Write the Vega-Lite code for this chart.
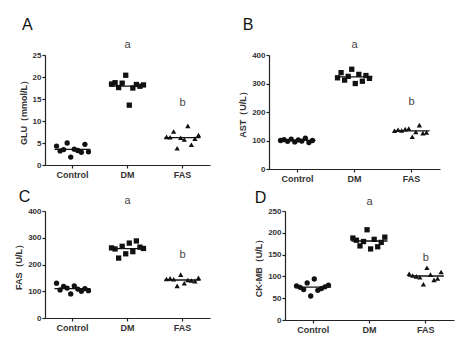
{
  "$schema": "https://vega.github.io/schema/vega-lite/v6.json",
  "background": "white",
  "padding": {"left": 14, "top": 16, "right": 5, "bottom": 5},
  "config": {
    "font": "Liberation Sans",
    "view": {"stroke": null},
    "axis": {"domainColor": "#222", "tickColor": "#222", "labelColor": "#333", "titleColor": "#333", "grid": false, "tickSize": 3, "domainWidth": 1.2, "tickWidth": 1.2, "labelOverlap": false},
    "axisX": {"labelFontSize": 9, "labelFontWeight": "bold", "labelAngle": 0, "title": null, "labelPadding": 2},
    "axisY": {"labelFontSize": 8, "labelFontWeight": "bold", "titleFontSize": 9, "titleFontWeight": "bold", "titlePadding": 4, "labelPadding": 1, "labelOverlap": false},
    "title": {"anchor": "start", "frame": "bounds", "fontSize": 16, "fontWeight": "normal", "color": "#111", "offset": 6}
  },
  "datasets": {
    "pts": [
      {"panel": "A", "group": "Control", "id": 1, "value": 4.3},
      {"panel": "A", "group": "Control", "id": 2, "value": 3.2},
      {"panel": "A", "group": "Control", "id": 3, "value": 3.5},
      {"panel": "A", "group": "Control", "id": 4, "value": 5.0},
      {"panel": "A", "group": "Control", "id": 5, "value": 1.8},
      {"panel": "A", "group": "Control", "id": 6, "value": 3.6},
      {"panel": "A", "group": "Control", "id": 7, "value": 3.3},
      {"panel": "A", "group": "Control", "id": 8, "value": 2.9},
      {"panel": "A", "group": "Control", "id": 9, "value": 4.7},
      {"panel": "A", "group": "Control", "id": 10, "value": 3.0},
      {"panel": "A", "group": "DM", "id": 1, "value": 18.4},
      {"panel": "A", "group": "DM", "id": 2, "value": 18.7},
      {"panel": "A", "group": "DM", "id": 3, "value": 17.6},
      {"panel": "A", "group": "DM", "id": 4, "value": 18.6},
      {"panel": "A", "group": "DM", "id": 5, "value": 20.4},
      {"panel": "A", "group": "DM", "id": 6, "value": 13.6},
      {"panel": "A", "group": "DM", "id": 7, "value": 17.5},
      {"panel": "A", "group": "DM", "id": 8, "value": 18.3},
      {"panel": "A", "group": "DM", "id": 9, "value": 17.9},
      {"panel": "A", "group": "DM", "id": 10, "value": 18.2},
      {"panel": "A", "group": "FAS", "id": 1, "value": 6.4},
      {"panel": "A", "group": "FAS", "id": 2, "value": 6.3},
      {"panel": "A", "group": "FAS", "id": 3, "value": 7.6},
      {"panel": "A", "group": "FAS", "id": 4, "value": 3.8},
      {"panel": "A", "group": "FAS", "id": 5, "value": 6.2},
      {"panel": "A", "group": "FAS", "id": 6, "value": 5.8},
      {"panel": "A", "group": "FAS", "id": 7, "value": 8.9},
      {"panel": "A", "group": "FAS", "id": 8, "value": 4.6},
      {"panel": "A", "group": "FAS", "id": 9, "value": 6.0},
      {"panel": "A", "group": "FAS", "id": 10, "value": 6.8},
      {"panel": "B", "group": "Control", "id": 1, "value": 100},
      {"panel": "B", "group": "Control", "id": 2, "value": 103},
      {"panel": "B", "group": "Control", "id": 3, "value": 97},
      {"panel": "B", "group": "Control", "id": 4, "value": 105},
      {"panel": "B", "group": "Control", "id": 5, "value": 95},
      {"panel": "B", "group": "Control", "id": 6, "value": 102},
      {"panel": "B", "group": "Control", "id": 7, "value": 98},
      {"panel": "B", "group": "Control", "id": 8, "value": 108},
      {"panel": "B", "group": "Control", "id": 9, "value": 93},
      {"panel": "B", "group": "Control", "id": 10, "value": 100},
      {"panel": "B", "group": "DM", "id": 1, "value": 320},
      {"panel": "B", "group": "DM", "id": 2, "value": 338},
      {"panel": "B", "group": "DM", "id": 3, "value": 312},
      {"panel": "B", "group": "DM", "id": 4, "value": 325},
      {"panel": "B", "group": "DM", "id": 5, "value": 350},
      {"panel": "B", "group": "DM", "id": 6, "value": 300},
      {"panel": "B", "group": "DM", "id": 7, "value": 332},
      {"panel": "B", "group": "DM", "id": 8, "value": 308},
      {"panel": "B", "group": "DM", "id": 9, "value": 328},
      {"panel": "B", "group": "DM", "id": 10, "value": 318},
      {"panel": "B", "group": "FAS", "id": 1, "value": 134},
      {"panel": "B", "group": "FAS", "id": 2, "value": 138},
      {"panel": "B", "group": "FAS", "id": 3, "value": 135},
      {"panel": "B", "group": "FAS", "id": 4, "value": 140},
      {"panel": "B", "group": "FAS", "id": 5, "value": 142},
      {"panel": "B", "group": "FAS", "id": 6, "value": 113},
      {"panel": "B", "group": "FAS", "id": 7, "value": 130},
      {"panel": "B", "group": "FAS", "id": 8, "value": 154},
      {"panel": "B", "group": "FAS", "id": 9, "value": 126},
      {"panel": "B", "group": "FAS", "id": 10, "value": 128},
      {"panel": "C", "group": "Control", "id": 1, "value": 130},
      {"panel": "C", "group": "Control", "id": 2, "value": 105},
      {"panel": "C", "group": "Control", "id": 3, "value": 118},
      {"panel": "C", "group": "Control", "id": 4, "value": 112},
      {"panel": "C", "group": "Control", "id": 5, "value": 90},
      {"panel": "C", "group": "Control", "id": 6, "value": 120},
      {"panel": "C", "group": "Control", "id": 7, "value": 108},
      {"panel": "C", "group": "Control", "id": 8, "value": 100},
      {"panel": "C", "group": "Control", "id": 9, "value": 110},
      {"panel": "C", "group": "Control", "id": 10, "value": 102},
      {"panel": "C", "group": "DM", "id": 1, "value": 262},
      {"panel": "C", "group": "DM", "id": 2, "value": 258},
      {"panel": "C", "group": "DM", "id": 3, "value": 224},
      {"panel": "C", "group": "DM", "id": 4, "value": 268},
      {"panel": "C", "group": "DM", "id": 5, "value": 240},
      {"panel": "C", "group": "DM", "id": 6, "value": 280},
      {"panel": "C", "group": "DM", "id": 7, "value": 248},
      {"panel": "C", "group": "DM", "id": 8, "value": 288},
      {"panel": "C", "group": "DM", "id": 9, "value": 265},
      {"panel": "C", "group": "DM", "id": 10, "value": 260},
      {"panel": "C", "group": "FAS", "id": 1, "value": 146},
      {"panel": "C", "group": "FAS", "id": 2, "value": 148},
      {"panel": "C", "group": "FAS", "id": 3, "value": 145},
      {"panel": "C", "group": "FAS", "id": 4, "value": 120},
      {"panel": "C", "group": "FAS", "id": 5, "value": 162},
      {"panel": "C", "group": "FAS", "id": 6, "value": 130},
      {"panel": "C", "group": "FAS", "id": 7, "value": 142},
      {"panel": "C", "group": "FAS", "id": 8, "value": 140},
      {"panel": "C", "group": "FAS", "id": 9, "value": 138},
      {"panel": "C", "group": "FAS", "id": 10, "value": 150},
      {"panel": "D", "group": "Control", "id": 1, "value": 78},
      {"panel": "D", "group": "Control", "id": 2, "value": 75},
      {"panel": "D", "group": "Control", "id": 3, "value": 70},
      {"panel": "D", "group": "Control", "id": 4, "value": 85},
      {"panel": "D", "group": "Control", "id": 5, "value": 55},
      {"panel": "D", "group": "Control", "id": 6, "value": 94},
      {"panel": "D", "group": "Control", "id": 7, "value": 68},
      {"panel": "D", "group": "Control", "id": 8, "value": 72},
      {"panel": "D", "group": "Control", "id": 9, "value": 76},
      {"panel": "D", "group": "Control", "id": 10, "value": 80},
      {"panel": "D", "group": "DM", "id": 1, "value": 188},
      {"panel": "D", "group": "DM", "id": 2, "value": 183},
      {"panel": "D", "group": "DM", "id": 3, "value": 170},
      {"panel": "D", "group": "DM", "id": 4, "value": 180},
      {"panel": "D", "group": "DM", "id": 5, "value": 207},
      {"panel": "D", "group": "DM", "id": 6, "value": 163},
      {"panel": "D", "group": "DM", "id": 7, "value": 185},
      {"panel": "D", "group": "DM", "id": 8, "value": 168},
      {"panel": "D", "group": "DM", "id": 9, "value": 178},
      {"panel": "D", "group": "DM", "id": 10, "value": 190},
      {"panel": "D", "group": "FAS", "id": 1, "value": 106},
      {"panel": "D", "group": "FAS", "id": 2, "value": 102},
      {"panel": "D", "group": "FAS", "id": 3, "value": 100},
      {"panel": "D", "group": "FAS", "id": 4, "value": 98},
      {"panel": "D", "group": "FAS", "id": 5, "value": 82},
      {"panel": "D", "group": "FAS", "id": 6, "value": 120},
      {"panel": "D", "group": "FAS", "id": 7, "value": 104},
      {"panel": "D", "group": "FAS", "id": 8, "value": 92},
      {"panel": "D", "group": "FAS", "id": 9, "value": 95},
      {"panel": "D", "group": "FAS", "id": 10, "value": 110}
    ],
    "ann": [
      {"panel": "A", "group": "DM", "label": "a", "value": 27.3},
      {"panel": "A", "group": "FAS", "label": "b", "value": 14.2},
      {"panel": "B", "group": "DM", "label": "a", "value": 435},
      {"panel": "B", "group": "FAS", "label": "b", "value": 235},
      {"panel": "C", "group": "DM", "label": "a", "value": 436},
      {"panel": "C", "group": "FAS", "label": "b", "value": 234},
      {"panel": "D", "group": "DM", "label": "a", "value": 270},
      {"panel": "D", "group": "FAS", "label": "b", "value": 142}
    ]
  },
  "vconcat": [
    {
      "hconcat": [
        {
          "width": 165, "height": 110,
          "title": {"text": "A", "dx": 3},
          "encoding": {
            "x": {"field": "group", "type": "nominal", "sort": ["Control", "DM", "FAS"], "scale": {"paddingInner": 0, "paddingOuter": 0}},
            "y": {"field": "value", "type": "quantitative", "scale": {"domain": [0, 25]}, "axis": {"values": [0, 5, 10, 15, 20, 25], "labelOverlap": false, "title": "GLU（mmol/L）"}}
          },
          "layer": [
            {"data": {"name": "pts"}, "transform": [{"filter": "datum.panel === 'A'"}],
             "mark": {"type": "point", "filled": true, "opacity": 1, "color": "#111", "size": 28},
             "encoding": {
               "xOffset": {"field": "id", "type": "quantitative", "scale": {"domain": [-2.25, 13.25]}},
               "shape": {"field": "group", "type": "nominal", "scale": {"domain": ["Control", "DM", "FAS"], "range": ["circle", "square", "triangle-up"]}, "legend": null}
             }},
            {"data": {"name": "pts"}, "transform": [{"filter": "datum.panel === 'A'"}],
             "mark": {"type": "tick", "color": "#111", "size": 36, "thickness": 1.3},
             "encoding": {
               "y": {"aggregate": "mean", "field": "value", "type": "quantitative"}
             }},
            {"data": {"name": "ann"}, "transform": [{"filter": "datum.panel === 'A'"}],
             "mark": {"type": "text", "fontSize": 11, "color": "#444"},
             "encoding": {"text": {"field": "label"}}}
          ]
        },
        {
          "width": 171, "height": 114,
          "title": {"text": "B", "dx": 4},
          "encoding": {
            "x": {"field": "group", "type": "nominal", "sort": ["Control", "DM", "FAS"], "scale": {"paddingInner": 0, "paddingOuter": 0}},
            "y": {"field": "value", "type": "quantitative", "scale": {"domain": [0, 400]}, "axis": {"values": [0, 100, 200, 300, 400], "labelOverlap": false, "title": "AST（U/L）"}}
          },
          "layer": [
            {"data": {"name": "pts"}, "transform": [{"filter": "datum.panel === 'B'"}],
             "mark": {"type": "point", "filled": true, "opacity": 1, "color": "#111", "size": 28},
             "encoding": {
               "xOffset": {"field": "id", "type": "quantitative", "scale": {"domain": [-2.25, 13.25]}},
               "shape": {"field": "group", "type": "nominal", "scale": {"domain": ["Control", "DM", "FAS"], "range": ["circle", "square", "triangle-up"]}, "legend": null}
             }},
            {"data": {"name": "pts"}, "transform": [{"filter": "datum.panel === 'B'"}],
             "mark": {"type": "tick", "color": "#111", "size": 36, "thickness": 1.3},
             "encoding": {
               "y": {"aggregate": "mean", "field": "value", "type": "quantitative"}
             }},
            {"data": {"name": "ann"}, "transform": [{"filter": "datum.panel === 'B'"}],
             "mark": {"type": "text", "fontSize": 11, "color": "#444"},
             "encoding": {"text": {"field": "label"}}}
          ]
        }
      ],
      "spacing": 28
    },
    {
      "hconcat": [
        {
          "width": 165, "height": 107,
          "title": {"text": "C", "offset": -10, "dx": 4},
          "encoding": {
            "x": {"field": "group", "type": "nominal", "sort": ["Control", "DM", "FAS"], "scale": {"paddingInner": 0, "paddingOuter": 0}},
            "y": {"field": "value", "type": "quantitative", "scale": {"domain": [0, 400]}, "axis": {"values": [0, 100, 200, 300, 400], "labelOverlap": false, "title": "FAS（U/L）"}}
          },
          "layer": [
            {"data": {"name": "pts"}, "transform": [{"filter": "datum.panel === 'C'"}],
             "mark": {"type": "point", "filled": true, "opacity": 1, "color": "#111", "size": 28},
             "encoding": {
               "xOffset": {"field": "id", "type": "quantitative", "scale": {"domain": [-2.25, 13.25]}},
               "shape": {"field": "group", "type": "nominal", "scale": {"domain": ["Control", "DM", "FAS"], "range": ["circle", "square", "triangle-up"]}, "legend": null}
             }},
            {"data": {"name": "pts"}, "transform": [{"filter": "datum.panel === 'C'"}],
             "mark": {"type": "tick", "color": "#111", "size": 36, "thickness": 1.3},
             "encoding": {
               "y": {"aggregate": "mean", "field": "value", "type": "quantitative"}
             }},
            {"data": {"name": "ann"}, "transform": [{"filter": "datum.panel === 'C'"}],
             "mark": {"type": "text", "fontSize": 11, "color": "#444"},
             "encoding": {"text": {"field": "label"}}}
          ]
        },
        {
          "width": 169, "height": 109,
          "title": {"text": "D", "offset": -10},
          "encoding": {
            "x": {"field": "group", "type": "nominal", "sort": ["Control", "DM", "FAS"], "scale": {"paddingInner": 0, "paddingOuter": 0}},
            "y": {"field": "value", "type": "quantitative", "scale": {"domain": [0, 250]}, "axis": {"values": [0, 50, 100, 150, 200, 250], "labelOverlap": false, "title": "CK-MB（U/L）"}}
          },
          "layer": [
            {"data": {"name": "pts"}, "transform": [{"filter": "datum.panel === 'D'"}],
             "mark": {"type": "point", "filled": true, "opacity": 1, "color": "#111", "size": 28},
             "encoding": {
               "xOffset": {"field": "id", "type": "quantitative", "scale": {"domain": [-2.25, 13.25]}},
               "shape": {"field": "group", "type": "nominal", "scale": {"domain": ["Control", "DM", "FAS"], "range": ["circle", "square", "triangle-up"]}, "legend": null}
             }},
            {"data": {"name": "pts"}, "transform": [{"filter": "datum.panel === 'D'"}],
             "mark": {"type": "tick", "color": "#111", "size": 36, "thickness": 1.3},
             "encoding": {
               "y": {"aggregate": "mean", "field": "value", "type": "quantitative"}
             }},
            {"data": {"name": "ann"}, "transform": [{"filter": "datum.panel === 'D'"}],
             "mark": {"type": "text", "fontSize": 11, "color": "#444"},
             "encoding": {"text": {"field": "label"}}}
          ]
        }
      ],
      "spacing": 44
    }
  ],
  "spacing": 6
}
